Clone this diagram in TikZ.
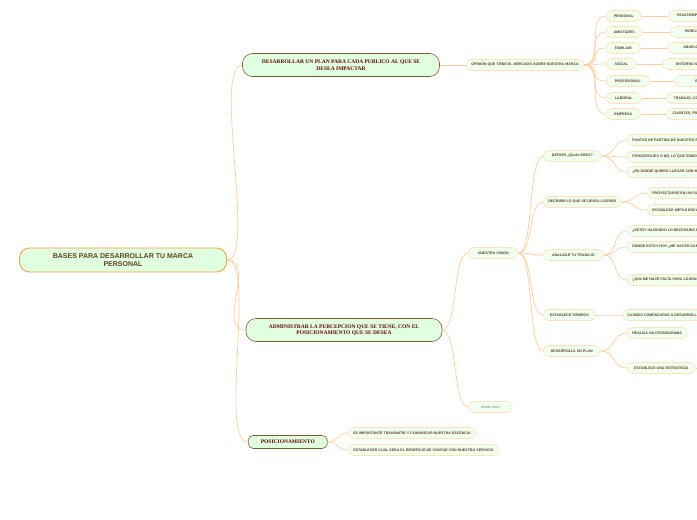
\documentclass[tikz,border=0pt]{standalone}
\usepackage{fontspec}
\setmainfont{Liberation Sans}
\newfontfamily\slabfont{Liberation Serif}
\begin{document}
\begin{tikzpicture}[x=1pt,y=-1pt,
 leaf/.style={draw=yellow!20!orange!25,fill=green!6,rounded corners=5pt,line width=0.6pt,anchor=west,font=\fontsize{3.6}{4}\selectfont\bfseries,text=brown!50!black,inner xsep=5pt,minimum height=11pt},
 main/.style={draw=brown!70!black,fill=green!12,rounded corners=10pt,line width=0.6pt,font=\fontsize{5.5}{6.5}\selectfont\bfseries\slabfont,text=red!40!black,align=center},
 conn/.style={draw=orange!40,line width=0.7pt}]
\useasboundingbox (0,0) rectangle (697,520);
\begin{scope}
\clip (0,0) rectangle (697,520);
\node[draw=orange!80,fill=green!12,rounded corners=10pt,line width=0.8pt,minimum width=207pt,minimum height=24pt,align=center,font=\fontsize{7}{8.5}\selectfont\bfseries,text=brown!50!black] (root) at (123,260) {BASES PARA DESARROLLAR TU MARCA\\PERSONAL};
\node[main,minimum width=197pt,minimum height=23pt] (m1) at (341,65) {DESARROLLAR UN PLAN PARA CADA PUBLICO AL QUE SE\\DESEA IMPACTAR};
\node[main,minimum width=196pt,minimum height=23pt] (m2) at (344,330) {ADMINISTRAR LA PERCEPCION QUE SE TIENE, CON EL\\POSICIONAMIENTO QUE SE DESEA};
\node[main,minimum width=79pt,minimum height=13pt,anchor=west,rounded corners=5pt] (m3) at (248,442) {POSICIONAMIENTO};
\foreach \m in {m1,m2,m3} \draw[conn] (root.east) .. controls +(30,0) and +(-30,0) .. (\m.west);
% branch 1
\node[leaf,minimum width=114pt] (op) at (466,65) {OPINION QUE TIENE EL MERCADO SOBRE NUESTRA MARCA};
\draw[conn] (m1.east) -- (op.west);
\foreach \n/\t/\y/\w/\u/\ux in {
 a/PERSONAL/16/35/{PASATIEMPOS, GUSTOS}/668,
 b/AMISTADES/32/36/{PAREJA, AMIGOS}/670,
 c/FAMILIAR/48/34/{ABUELOS, TIOS}/667,
 d/SOCIAL/64/30/{ENTORNO SOCIAL}/662,
 e/PROFESIONAL/81/43/{ENTORNO}/674,
 f/LABORAL/98/35/{TRABAJO, COMPA\~NEROS}/666,
 g/EMPRESA/114/34/{CLIENTES, PROVEEDORES}/666}{
 \node[leaf,minimum width=\w pt] (\n) at (606,\y) {\t};
 \draw[conn] (op.east) .. controls +(20,0) and +(-20,0) .. (\n.west);
 \node[leaf,minimum width=60pt,align=center] (\n2) at (\ux,\y) {\u};
 \draw[conn] (\n.east) -- (\n2.west);
}
% branch 2
\node[leaf,minimum width=50pt] (vis) at (468,253) {NUESTRA VISION};
\node[leaf,minimum width=44pt,font=\fontsize{3.6}{4}\selectfont,text=gray] (add) at (468,407) {añadir texto};
\draw[conn] (m2.east) .. controls +(15,0) and +(-15,0) .. (vis.west);
\draw[conn] (m2.east) .. controls +(15,0) and +(-15,0) .. (add.west);
\foreach \n/\t/\y/\w in {d1/{DEFINIR ¿Quién ERES?}/156/58, d2/{DECRIBIR LO QUE SE DESEA LOGRAR}/202/77, d3/{ANALIZAR TU TRABAJO}/255/60, d4/{ESTABLECE TIEMPOS}/315/52, d5/{DESARROLLA UN PLAN}/351/57}{
 \node[leaf,minimum width=\w pt] (\n) at (543,\y) {\t};
 \draw[conn] (vis.east) .. controls +(15,0) and +(-15,0) .. (\n.west);
}
\foreach \p/\n/\t/\x/\y in {
 d1/e1/{PUNTOS DE PARTIDA DE NUESTRO PERFIL}/627/140,
 d1/e2/{PORCENTAJES O NO, LO QUE SOMOS HOY}/627/157,
 d1/e3/{¿EN DONDE QUIERO LLEGAR CON MI MARCA?}/627/172,
 d2/e4/{PROYECTARSE EN UN FUTURO}/647/193,
 d2/e5/{ESTABLECE METAS ENCAMINADAS}/647/210,
 d3/e6/{¿ESTOY HACIENDO LO NECESARIO PARA LOGRARLO?}/627/231,
 d3/e7/{DONDE ESTOY HOY ¿ME HACER CAMBIAR?}/627/247,
 d3/e8/{¿QUé ME HACE FALTA PARA LOGRARLO?}/627/280,
 d4/e9/{CUANDO COMENZARAS A DESARROLLARLO}/622/315,
 d5/e10/{REALIZA UN CRONOGRAMA}/627/333}{
 \node[leaf] (\n) at (\x,\y) {\t};
 \draw[conn] (\p.east) .. controls +(15,0) and +(-15,0) .. (\n.west);
}
\node[leaf,minimum width=68pt] (e11) at (627,368) {ESTABLECE UNA ESTRATEGIA};
\draw[conn] (d5.east) .. controls +(15,0) and +(-15,0) .. (e11.west);
\coordinate (out) at (700,368);
\draw[conn] (e11.east) -- (out);
% branch 3
\node[leaf,minimum width=122pt] (p1) at (348,433) {ES IMPORTANTE TRANSMITIR Y COMUNICAR NUESTRA ESCENCIA};
\node[leaf,minimum width=144pt] (p2) at (348,450) {ESTABLECER CUAL SERA EL BENEFICIO DE CONTAR CON NUESTRO SERVICIO};
\draw[conn] (m3.east) .. controls +(12,0) and +(-12,0) .. (p1.west);
\draw[conn] (m3.east) .. controls +(12,0) and +(-12,0) .. (p2.west);
\end{scope}
\end{tikzpicture}
\end{document}
